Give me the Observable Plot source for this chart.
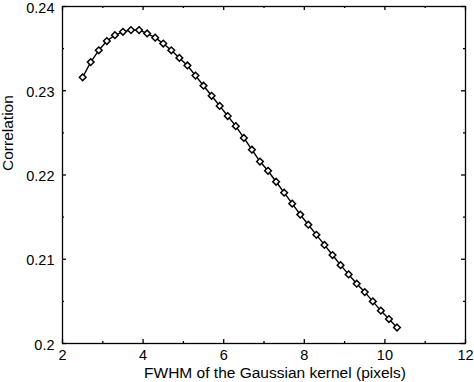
<!DOCTYPE html>
<html>
<head>
<meta charset="utf-8">
<script src="https://cdn.jsdelivr.net/npm/d3@7"></script>
<script src="https://cdn.jsdelivr.net/npm/@observablehq/plot@0.6"></script>
<style>
  html, body { margin: 0; padding: 0; background: #fff; }
</style>
</head>
<body>
<div id="chart"></div>
<script>
// FWHM of the Gaussian kernel (pixels)
const fwhm = [2.5, 2.7, 2.9, 3.1, 3.3, 3.5, 3.7, 3.9, 4.1, 4.3,
              4.5, 4.7, 4.9, 5.1, 5.3, 5.5, 5.7, 5.9, 6.1, 6.3,
              6.5, 6.7, 6.9, 7.1, 7.3, 7.5, 7.7, 7.9, 8.1, 8.3,
              8.5, 8.7, 8.9, 9.1, 9.3, 9.5, 9.7, 9.9, 10.1, 10.3];
// Correlation
const correlation = [0.2316, 0.2334, 0.2348, 0.2359, 0.2366, 0.2370, 0.2372, 0.2372, 0.2368, 0.2363,
                     0.2356, 0.2348, 0.2339, 0.2330, 0.2318, 0.2306, 0.2294, 0.2282, 0.2270, 0.2258,
                     0.2244, 0.2230, 0.2216, 0.2205, 0.2192, 0.2179, 0.2166, 0.2153, 0.2141, 0.2129,
                     0.2117, 0.2105, 0.2093, 0.2082, 0.2071, 0.2061, 0.2050, 0.2039, 0.2029, 0.2019];

const xMajorTicks = [2, 4, 6, 8, 10, 12];
const xMinorTicks = [3, 5, 7, 9, 11];
const yMajorTicks = [0.2, 0.21, 0.22, 0.23, 0.24];
const yMinorTicks = [0.205, 0.215, 0.225, 0.235];
const yTickLabels = ["0.2", "0.21", "0.22", "0.23", "0.24"];
const xLabel = "FWHM of the Gaussian kernel (pixels)";
const yLabel = "Correlation";

const data = fwhm.map((x, i) => ({x, y: correlation[i]}));

const W = 474, H = 382;
const mL = 62, mR = 9, mT = 6, mB = 39;
const fw = W - mL - mR, fh = H - mT - mB;
const major = 4, minor = 2;
const font = "'Liberation Sans', Arial, Helvetica, sans-serif";

const plot = Plot.plot({
  width: W,
  height: H,
  marginLeft: mL,
  marginRight: mR,
  marginTop: mT,
  marginBottom: mB,
  style: {fontFamily: font, fontSize: "14px", background: "#fff", color: "#000", overflow: "visible"},
  x: {domain: [2, 12]},
  y: {domain: [0.2, 0.24]},
  marks: [
    Plot.frame({stroke: "#000", strokeWidth: 1.3}),
    // inward ticks on all four sides
    Plot.tickX(xMajorTicks, {x: d => d, insetTop: fh - major, stroke: "#000", strokeWidth: 1.3}),
    Plot.tickX(xMajorTicks, {x: d => d, insetBottom: fh - major, stroke: "#000", strokeWidth: 1.3}),
    Plot.tickX(xMinorTicks, {x: d => d, insetTop: fh - minor, stroke: "#000", strokeWidth: 1.3}),
    Plot.tickX(xMinorTicks, {x: d => d, insetBottom: fh - minor, stroke: "#000", strokeWidth: 1.3}),
    Plot.tickY(yMajorTicks, {y: d => d, insetRight: fw - major, stroke: "#000", strokeWidth: 1.3}),
    Plot.tickY(yMajorTicks, {y: d => d, insetLeft: fw - major, stroke: "#000", strokeWidth: 1.3}),
    Plot.tickY(yMinorTicks, {y: d => d, insetRight: fw - minor, stroke: "#000", strokeWidth: 1.3}),
    Plot.tickY(yMinorTicks, {y: d => d, insetLeft: fw - minor, stroke: "#000", strokeWidth: 1.3}),
    // tick labels
    Plot.axisX({anchor: "bottom", ticks: xMajorTicks, tickSize: 0, tickPadding: 6, label: null,
                fontSize: 14.5, tickFormat: d => String(d)}),
    Plot.axisY({anchor: "left", ticks: yMajorTicks, tickSize: 0, tickPadding: 8, label: null,
                fontSize: 14.5, dy: 1.5, tickFormat: d => yTickLabels[yMajorTicks.indexOf(d)]}),
    // axis titles
    Plot.text([xLabel], {frameAnchor: "bottom", text: d => d, dy: 23, dx: 11, lineAnchor: "top", fontSize: 15.5}),
    Plot.text([yLabel], {frameAnchor: "left", text: d => d, rotate: -90, dx: -54, dy: -4, fontSize: 15.5}),
    // data
    Plot.line(data, {x: "x", y: "y", stroke: "#000", strokeWidth: 1.4}),
    Plot.dot(data, {x: "x", y: "y", symbol: "diamond2", r: 3, stroke: "#000", fill: "#fff", strokeWidth: 1.5})
  ]
});

document.getElementById("chart").appendChild(plot);
</script>
</body>
</html>
